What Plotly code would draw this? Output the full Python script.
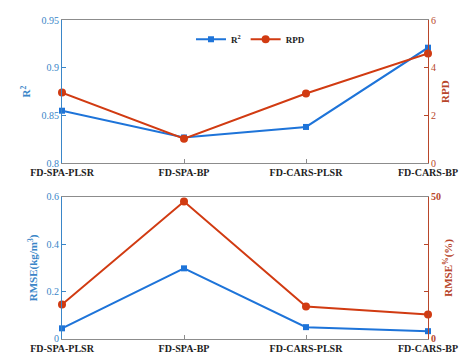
import plotly.graph_objects as go

categories = ["FD-SPA-PLSR", "FD-SPA-BP", "FD-CARS-PLSR", "FD-CARS-BP"]
r2 = [0.855, 0.827, 0.838, 0.921]
rpd = [2.96, 1.03, 2.92, 4.6]
rmse = [0.045, 0.298, 0.05, 0.033]
rmse_pct = [12.1, 48.3, 11.4, 8.6]

BLUE = "#1E74D9"
RED = "#D13B12"
BLUE_T = "#3A86C8"
RED_T = "#B8462A"
GREY = "#8c8c8c"
FONT = "Liberation Serif"

fig = go.Figure()
fig.add_trace(go.Scatter(x=categories, y=r2, name="R<sup>2</sup>", mode="lines+markers",
                         line=dict(color=BLUE, width=2), marker=dict(symbol="square", size=6, color=BLUE),
                         xaxis="x", yaxis="y", cliponaxis=False))
fig.add_trace(go.Scatter(x=categories, y=rpd, name="RPD", mode="lines+markers",
                         line=dict(color=RED, width=2), marker=dict(symbol="circle", size=8, color=RED),
                         xaxis="x", yaxis="y2", cliponaxis=False))
fig.add_trace(go.Scatter(x=categories, y=rmse, name="RMSE", mode="lines+markers", showlegend=False,
                         line=dict(color=BLUE, width=2), marker=dict(symbol="square", size=6, color=BLUE),
                         xaxis="x2", yaxis="y3", cliponaxis=False))
fig.add_trace(go.Scatter(x=categories, y=rmse_pct, name="RMSE%", mode="lines+markers", showlegend=False,
                         line=dict(color=RED, width=2), marker=dict(symbol="circle", size=8, color=RED),
                         xaxis="x2", yaxis="y4", cliponaxis=False))

xcommon = dict(type="category", range=[0, 3], showline=True, linecolor=GREY, mirror=True,
               ticks="inside", ticklen=4, tickcolor=GREY, showgrid=False, zeroline=False,
               automargin=False,
               tickfont=dict(family=FONT, size=10, color="#222222", weight="bold"))

ycommon = dict(showline=True, ticks="inside", ticklen=4, showgrid=False, zeroline=False, automargin=True)

# page body has an 8px default margin, so the figure is sized to fit the 474x363 window
fig.update_layout(
    width=466, height=355,
    margin=dict(l=54, r=46, t=6, b=24),
    paper_bgcolor="white", plot_bgcolor="white",
    font=dict(family=FONT),
    xaxis=dict(domain=[0, 1], anchor="y", **xcommon),
    xaxis2=dict(domain=[0, 1], anchor="y3", **xcommon),
    yaxis=dict(domain=[0.551, 1.0], range=[0.8, 0.95], tickvals=[0.8, 0.85, 0.9, 0.95],
               ticktext=["0.8", "0.85", "0.9", "0.95"],
               linecolor=BLUE_T, tickcolor=BLUE_T,
               tickfont=dict(family=FONT, size=10, color=BLUE_T),
               title=dict(text="R<sup>2</sup>", standoff=8,
                          font=dict(family=FONT, size=11, color=BLUE_T, weight="bold")),
               **ycommon),
    yaxis2=dict(overlaying="y", side="right", anchor="x", range=[0, 6], tickvals=[0, 2, 4, 6],
                linecolor=RED_T, tickcolor=RED_T,
                tickfont=dict(family=FONT, size=10, color=RED_T),
                title=dict(text="RPD", standoff=6,
                           font=dict(family=FONT, size=11, color=RED_T, weight="bold")),
                **ycommon),
    yaxis3=dict(domain=[0, 0.446], anchor="x2", range=[0, 0.6], tickvals=[0, 0.2, 0.4, 0.6],
                ticktext=["0", "0.2", "0.4", "0.6"],
                linecolor=BLUE_T, tickcolor=BLUE_T,
                tickfont=dict(family=FONT, size=10, color=BLUE_T),
                title=dict(text="RMSE(kg/m<sup>3</sup>)", standoff=6,
                           font=dict(family=FONT, size=11, color=BLUE_T, weight="bold")),
                **ycommon),
    yaxis4=dict(overlaying="y3", side="right", anchor="x2", range=[0, 50],
                tickvals=[0, 50 / 3, 100 / 3, 50], ticktext=["0", "", "", "50"],
                linecolor=RED_T, tickcolor=RED_T,
                tickfont=dict(family=FONT, size=10, color=RED_T, weight="bold"),
                title=dict(text="RMSE<sup>%</sup>(%)", standoff=4,
                           font=dict(family=FONT, size=11, color=RED_T, weight="bold")),
                **ycommon),
    legend=dict(orientation="h", x=0.515, xanchor="center", y=0.985, yanchor="top",
                bgcolor="rgba(0,0,0,0)", font=dict(family=FONT, size=9, color="#222222", weight="bold"),
                itemwidth=30, tracegroupgap=0),
)

fig.write_html("out.html")
